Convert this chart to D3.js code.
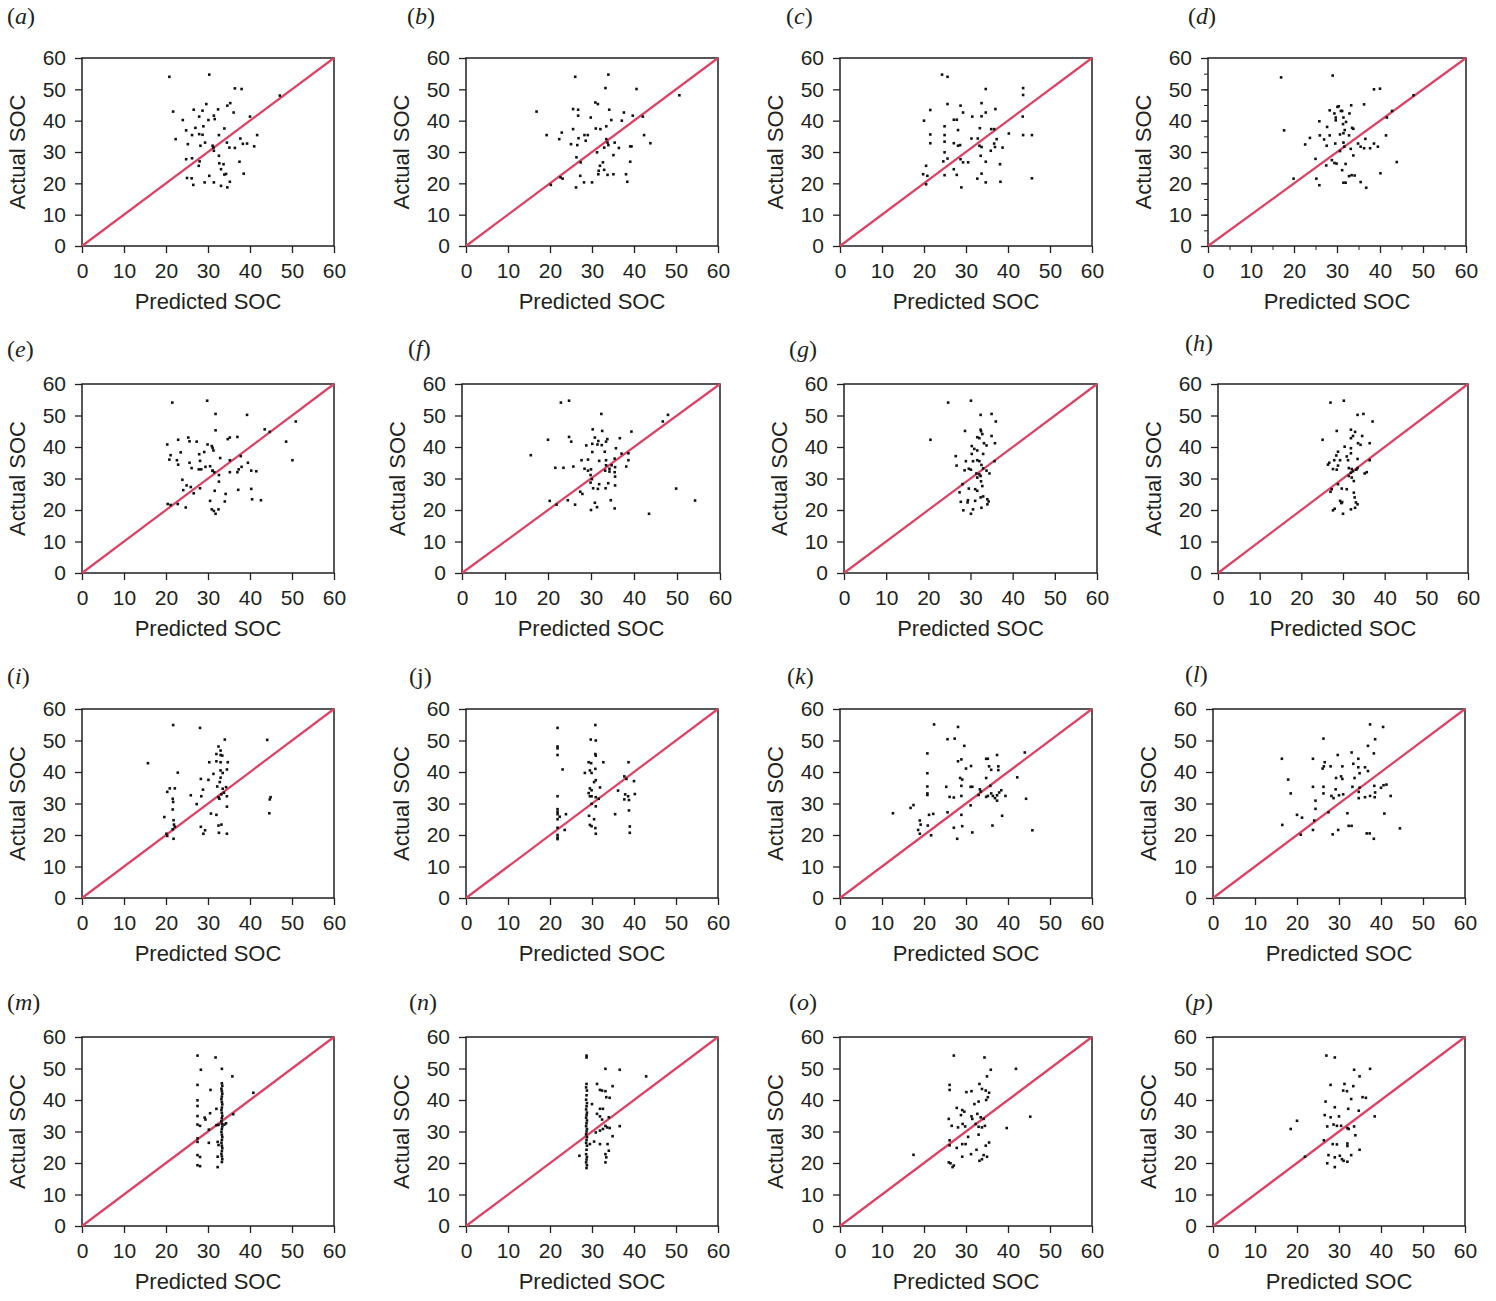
<!DOCTYPE html>
<html><head><meta charset="utf-8">
<script src="https://cdn.jsdelivr.net/npm/d3@7/dist/d3.min.js"></script>
<style>
html,body{margin:0;padding:0;background:#fff;}
svg{display:block;}
</style></head>
<body>
<svg id="chart" width="1496" height="1301"></svg>
<script>
// ---------- data ----------
const ticks = [0, 10, 20, 30, 40, 50, 60];
const minorTicks = [0, 5, 10, 15, 20, 25, 30, 35, 40, 45, 50, 55, 60];
const panelLabels = ["(a)","(b)","(c)","(d)","(e)","(f)","(g)","(h)","(i)","(j)","(k)","(l)","(m)","(n)","(o)","(p)"];
const xTitle = "Predicted SOC";
const yTitle = "Actual SOC";
const lineSegment = [[0, 0], [60, 60]];

const ptsA = [[20.8,54.0],[30.3,54.7],[36.4,50.3],[38.0,50.1],[47.1,48.0],[21.7,42.9],[26.6,43.5],[28.7,43.2],[32.4,43.6],[29.6,45.3],[34.6,44.8],[35.3,45.6],[36.1,42.6],[27.9,41.3],[31.4,41.6],[31.6,40.5],[30.1,40.2],[24.0,40.2],[40.0,41.3],[27.0,37.7],[28.9,38.2],[33.9,37.5],[24.8,36.9],[27.9,35.7],[28.7,35.5],[26.2,35.4],[32.6,35.4],[22.3,34.1],[25.2,32.5],[28.2,32.0],[31.1,32.0],[31.3,31.4],[29.3,33.0],[34.5,33.0],[35.1,31.4],[36.4,31.3],[37.7,34.3],[38.3,32.6],[41.0,31.8],[41.7,35.4],[39.3,32.7],[32.6,28.8],[31.4,30.4],[26.2,28.0],[24.8,27.7],[28.0,27.0],[32.7,26.4],[33.7,26.1],[37.5,26.9],[27.8,25.6],[33.1,24.5],[33.9,22.8],[34.3,23.0],[38.5,23.1],[25.0,21.7],[26.1,21.6],[30.3,22.4],[26.5,19.5],[29.2,20.3],[31.4,20.3],[34.6,18.7],[35.2,20.5],[33.1,19.2]];
const ptsB = [[26.0,54.0],[33.9,54.7],[33.2,50.4],[40.6,50.1],[50.8,48.1],[16.8,42.9],[25.5,43.7],[26.7,43.5],[30.8,45.8],[31.4,45.3],[34.1,43.5],[37.6,42.6],[26.7,41.6],[29.7,41.0],[30.9,37.5],[32.0,37.3],[25.5,37.3],[33.4,38.2],[34.6,40.2],[37.1,40.0],[39.7,41.6],[42.1,41.3],[19.2,35.4],[22.8,36.2],[22.2,34.1],[26.8,34.4],[28.2,35.4],[29.0,35.4],[25.0,32.5],[26.5,32.2],[28.5,33.6],[33.4,34.1],[33.7,33.0],[33.9,32.2],[32.9,31.4],[35.4,33.0],[36.4,31.3],[39.1,31.8],[39.4,31.8],[42.4,35.4],[43.9,32.8],[31.2,29.9],[35.1,29.0],[26.3,28.3],[27.3,26.7],[32.6,26.7],[39.1,26.9],[31.9,25.6],[31.6,24.0],[32.9,24.3],[31.5,22.9],[33.7,22.7],[35.1,22.9],[38.1,22.9],[27.2,22.4],[22.5,21.9],[23.0,21.5],[20.2,19.5],[28.1,20.3],[30.0,20.3],[26.2,18.7],[38.4,20.5]];
const ptsC = [[24.3,54.7],[25.6,54.0],[34.7,50.1],[43.6,50.4],[43.6,48.2],[25.6,45.3],[28.7,44.8],[29.3,42.6],[21.5,43.4],[33.7,45.6],[34.7,42.6],[37.0,43.7],[31.5,41.3],[33.7,41.4],[43.5,41.3],[20.0,40.0],[27.1,40.3],[27.8,40.3],[24.9,38.2],[28.1,37.0],[33.3,37.6],[36.0,37.3],[36.7,37.3],[21.5,35.6],[24.9,35.4],[40.2,35.9],[43.6,35.4],[45.7,35.4],[21.5,32.8],[24.9,33.3],[27.1,32.8],[28.1,32.0],[28.6,32.2],[31.3,34.3],[32.8,34.3],[33.2,32.0],[33.7,31.6],[36.7,32.7],[36.9,31.6],[37.3,34.1],[38.7,31.4],[35.9,30.4],[24.9,29.9],[33.5,28.8],[25.6,27.9],[28.7,27.7],[24.6,27.0],[29.3,26.7],[30.5,26.7],[34.7,26.9],[38.1,26.1],[20.5,25.6],[27.1,24.5],[19.8,22.9],[20.8,22.4],[24.9,22.6],[27.8,22.7],[33.7,23.1],[32.7,21.5],[45.7,21.6],[20.5,19.7],[34.7,20.3],[38.2,20.5],[28.9,18.7]];
const ptsD = [[17.0,53.8],[29.0,54.4],[38.6,50.0],[40.0,50.2],[47.8,48.1],[30.1,44.4],[30.4,44.6],[33.3,44.9],[36.3,45.2],[28.3,43.3],[30.9,43.1],[31.2,43.1],[32.9,42.3],[29.4,42.3],[29.7,41.0],[31.5,41.0],[29.7,40.1],[32.1,39.6],[25.9,39.8],[31.4,38.9],[42.8,43.1],[41.6,41.0],[17.7,36.9],[27.7,38.0],[31.8,37.0],[33.5,37.7],[33.8,37.4],[30.7,35.6],[31.5,36.0],[32.8,35.3],[23.7,34.5],[26.0,35.3],[28.3,35.3],[27.0,34.0],[36.6,34.2],[41.4,35.3],[22.6,32.4],[27.6,32.0],[29.6,32.7],[31.5,33.0],[31.7,31.7],[34.9,32.7],[35.5,31.7],[36.3,31.2],[37.7,31.2],[38.6,32.7],[39.5,31.7],[33.2,31.0],[30.7,30.3],[25.0,27.8],[28.8,27.4],[29.4,26.5],[29.9,26.3],[27.5,25.7],[32.0,26.2],[33.8,28.9],[43.9,26.8],[31.2,24.2],[32.8,22.3],[33.4,22.6],[34.1,22.5],[40.1,23.2],[25.2,21.5],[19.9,21.5],[31.5,20.2],[32.0,20.2],[35.5,20.4],[25.9,19.4],[36.8,18.6]];
const ptsE = [[21.5,54.1],[29.8,54.7],[31.8,50.5],[39.3,50.2],[50.9,48.1],[31.8,45.3],[43.5,45.6],[44.7,44.8],[22.9,42.3],[25.3,43.0],[34.7,42.5],[35.2,43.0],[37.0,43.2],[20.3,40.8],[25.6,41.8],[27.3,41.7],[29.9,40.8],[30.9,40.3],[31.1,39.7],[48.6,41.7],[23.5,38.3],[27.9,37.7],[29.1,38.4],[31.3,38.9],[21.1,37.4],[20.8,36.0],[22.6,35.8],[22.9,34.4],[25.6,35.0],[28.1,35.6],[32.9,36.5],[35.2,35.8],[37.8,37.1],[50.1,35.8],[26.1,33.3],[27.8,32.9],[28.4,32.9],[29.4,33.7],[30.5,33.9],[31.1,32.4],[31.5,32.0],[31.1,32.5],[32.6,31.1],[35.2,32.0],[37.0,32.0],[37.3,32.9],[38.0,33.7],[39.5,35.0],[40.3,32.5],[41.5,32.3],[23.9,29.6],[32.6,29.0],[24.9,27.8],[25.9,27.3],[24.1,26.3],[26.6,25.3],[28.1,26.9],[31.6,26.1],[37.2,26.4],[40.3,26.7],[34.2,25.1],[34.0,22.7],[30.5,22.9],[40.5,23.4],[42.6,23.1],[20.4,21.9],[21.1,21.6],[22.8,21.9],[24.7,20.8],[30.9,20.2],[31.4,19.7],[32.5,20.2],[31.8,18.8]];
const ptsF = [[23.0,54.1],[24.9,54.7],[32.4,50.5],[47.9,50.2],[46.7,48.1],[30.4,45.6],[32.6,45.1],[39.4,44.9],[24.9,43.2],[20.0,42.3],[33.8,42.5],[36.7,42.8],[25.4,41.7],[30.9,43.0],[31.7,41.9],[33.5,41.7],[28.9,40.5],[30.3,41.0],[31.5,40.8],[32.5,40.6],[30.3,38.4],[33.2,38.5],[35.8,39.6],[37.1,37.9],[38.7,38.0],[16.0,37.4],[27.8,35.8],[29.3,36.0],[31.9,35.6],[33.5,35.8],[35.5,36.3],[38.7,35.8],[21.7,33.4],[23.6,33.4],[25.9,33.8],[28.5,33.1],[29.3,32.5],[30.0,32.9],[33.5,34.2],[34.3,33.1],[34.8,34.2],[33.3,32.5],[34.3,32.2],[35.5,32.0],[35.6,30.6],[35.6,33.6],[38.2,33.8],[29.9,31.1],[30.2,29.8],[29.9,28.7],[31.9,28.2],[34.0,28.5],[30.5,26.9],[31.6,26.7],[33.4,26.9],[35.6,27.8],[27.5,25.8],[28.0,25.1],[49.8,26.8],[20.4,22.9],[24.6,23.1],[30.9,22.3],[34.6,23.1],[26.3,21.7],[22.0,21.7],[54.2,23.0],[31.4,20.9],[30.0,20.0],[35.5,20.5],[43.5,18.8]];
const ptsG = [[24.7,54.1],[30.1,54.7],[32.4,50.2],[35.0,50.5],[36.0,48.1],[20.5,42.3],[28.7,45.1],[32.4,45.5],[32.5,45.0],[32.8,44.1],[31.6,43.1],[32.1,42.8],[35.0,43.5],[33.2,41.2],[33.8,40.5],[35.8,41.2],[30.3,40.3],[30.9,39.4],[31.6,38.9],[33.0,37.8],[26.5,37.1],[30.3,37.8],[28.9,35.5],[30.6,35.5],[31.6,35.8],[32.1,35.5],[35.7,35.5],[26.7,34.1],[28.6,32.6],[29.6,33.1],[30.1,32.8],[32.6,34.3],[33.0,33.2],[33.8,32.5],[34.5,31.6],[31.4,31.6],[32.1,31.3],[31.6,30.3],[32.4,30.8],[32.5,29.1],[28.1,28.2],[29.6,26.8],[31.1,26.6],[31.6,26.1],[32.8,27.6],[27.4,25.6],[32.4,24.0],[33.0,24.3],[27.7,22.6],[29.4,23.1],[29.3,22.4],[31.1,22.9],[34.0,23.4],[34.3,22.7],[34.0,21.8],[28.3,19.9],[30.6,20.2],[32.6,20.7],[30.1,18.8]];
const ptsH = [[27.0,54.1],[30.2,54.7],[33.5,50.2],[34.9,50.5],[37.1,48.1],[25.1,42.3],[28.5,45.1],[31.9,45.5],[32.4,43.5],[31.9,42.8],[32.9,44.8],[34.6,43.5],[33.6,41.2],[34.2,40.7],[36.4,41.2],[30.4,40.1],[31.9,39.6],[28.8,38.5],[31.9,38.0],[30.9,37.0],[28.4,37.3],[26.7,35.0],[27.9,35.8],[29.3,35.8],[31.2,35.8],[33.5,36.2],[36.4,35.8],[26.4,34.4],[28.8,34.1],[27.6,33.0],[28.5,32.8],[31.4,33.3],[32.1,33.0],[32.4,32.3],[31.9,31.8],[33.2,32.8],[33.5,33.3],[35.2,31.6],[35.7,32.0],[31.4,30.8],[32.1,30.3],[32.6,29.2],[28.8,28.2],[27.0,25.8],[27.3,26.6],[29.7,26.8],[30.9,26.6],[32.6,25.5],[32.8,24.0],[33.1,22.4],[29.3,22.9],[29.6,22.2],[29.8,22.5],[33.5,21.8],[27.6,19.9],[28.0,20.4],[31.9,20.2],[32.9,20.7],[30.0,18.8]];
const ptsI = [[21.7,54.9],[28.1,54.0],[34.0,50.3],[44.1,50.2],[32.5,48.1],[33.0,46.8],[15.7,42.8],[32.0,45.7],[33.0,45.4],[33.4,45.2],[32.0,43.4],[33.0,43.1],[34.7,43.1],[30.3,43.1],[22.8,39.8],[28.3,37.8],[30.1,37.5],[31.3,39.4],[33.0,40.5],[33.5,39.7],[34.5,40.8],[33.0,38.2],[32.8,36.8],[32.2,35.4],[33.5,34.7],[34.3,35.2],[20.9,34.8],[22.1,34.8],[20.3,33.7],[21.6,31.5],[21.7,30.5],[28.8,34.4],[25.9,32.6],[28.4,32.3],[32.5,32.0],[32.7,31.5],[33.2,32.9],[33.8,33.4],[34.5,32.3],[27.3,29.8],[34.5,29.0],[44.9,32.0],[44.7,31.3],[44.6,26.9],[21.6,28.1],[30.7,26.8],[32.0,26.4],[19.6,25.7],[21.8,24.7],[21.9,23.3],[22.1,22.6],[32.5,23.0],[33.2,23.3],[28.3,22.6],[21.6,21.8],[29.3,21.5],[20.1,20.4],[28.9,20.4],[32.6,20.7],[34.5,20.4],[20.3,19.7],[21.8,18.8]];
const ptsJ = [[21.8,54.0],[30.8,54.9],[21.8,48.1],[21.8,47.5],[29.7,50.3],[30.9,50.0],[21.8,45.4],[30.8,45.7],[30.9,45.2],[29.2,43.1],[29.8,42.8],[32.7,43.1],[38.7,43.1],[23.0,40.8],[29.5,40.5],[28.3,39.7],[29.9,39.7],[30.8,41.0],[37.7,38.6],[38.2,37.8],[40.0,37.1],[30.5,36.8],[30.9,37.4],[29.5,34.8],[29.9,34.2],[31.9,35.1],[36.2,34.1],[29.2,33.3],[29.5,32.3],[29.9,32.3],[30.9,32.0],[31.6,31.5],[37.9,32.9],[38.6,32.3],[40.2,33.0],[21.8,32.3],[37.7,31.3],[38.8,31.1],[29.9,29.9],[30.9,29.1],[21.8,28.2],[21.8,27.4],[21.8,26.6],[22.3,25.8],[23.8,26.6],[35.5,26.6],[29.3,26.1],[38.8,27.8],[30.5,25.0],[21.8,25.0],[29.5,23.2],[29.9,22.8],[30.8,22.2],[39.0,22.7],[23.5,21.6],[21.8,22.3],[30.9,20.4],[39.0,20.7],[21.8,20.0],[21.8,19.2],[21.8,18.7]];
const ptsK = [[22.4,55.1],[28.1,54.3],[25.6,50.4],[27.3,50.6],[29.6,48.3],[20.8,45.9],[37.4,45.4],[44.0,46.2],[28.1,43.4],[28.9,44.0],[34.8,44.2],[35.2,44.2],[31.2,41.9],[30.0,41.1],[35.5,41.8],[37.7,41.8],[36.0,40.7],[37.7,40.6],[20.8,39.6],[28.6,38.1],[29.1,37.6],[34.8,38.1],[42.2,38.3],[20.8,35.4],[25.3,35.3],[28.9,35.6],[31.1,35.3],[31.5,35.3],[33.3,34.5],[35.8,35.6],[16.8,28.6],[17.5,29.5],[12.6,26.9],[20.8,33.2],[20.8,32.7],[26.1,32.1],[27.1,31.9],[28.9,32.4],[33.0,32.7],[33.5,33.8],[34.8,32.1],[35.2,32.4],[36.0,33.2],[36.4,32.4],[36.9,31.7],[37.4,32.6],[37.9,33.5],[38.4,34.2],[37.4,30.9],[39.4,32.4],[31.1,29.4],[44.3,31.5],[25.6,27.2],[28.9,26.4],[21.2,26.4],[22.2,26.7],[38.6,26.1],[19.0,24.6],[19.2,23.3],[20.9,23.0],[27.1,22.3],[29.1,22.8],[36.3,23.0],[18.6,21.6],[31.5,20.8],[19.0,20.4],[21.7,19.9],[27.9,18.8],[45.8,21.5]];
const ptsL = [[37.4,55.1],[40.5,54.3],[26.3,50.6],[38.6,50.4],[36.9,48.3],[16.4,44.2],[23.8,44.2],[29.7,45.4],[33.0,46.2],[34.6,44.2],[38.3,45.9],[26.6,43.1],[26.4,41.8],[28.0,41.8],[30.8,41.8],[33.4,42.6],[34.6,41.5],[36.2,41.5],[26.1,41.1],[36.9,40.3],[29.3,38.1],[30.5,38.6],[30.8,37.8],[33.7,38.1],[34.9,39.6],[17.9,37.6],[23.8,35.3],[26.3,35.3],[29.2,34.5],[33.2,35.3],[34.9,35.0],[38.4,35.6],[40.0,35.0],[40.6,35.8],[41.3,36.0],[38.6,33.5],[18.5,33.2],[26.3,33.2],[28.2,32.4],[28.7,31.7],[30.0,32.6],[31.0,32.9],[34.7,33.7],[34.7,31.7],[36.2,32.0],[37.4,32.4],[38.5,32.0],[42.3,32.4],[24.4,30.9],[24.4,28.3],[27.5,27.2],[32.0,26.9],[40.8,26.8],[20.0,26.4],[21.2,25.5],[16.5,23.2],[24.1,24.6],[32.3,22.9],[33.0,22.9],[44.5,22.1],[23.8,21.6],[28.5,20.2],[29.8,21.6],[20.9,20.1],[36.6,20.5],[37.3,20.5],[38.3,18.8]];
const ptsM = [[27.5,54.1],[31.8,53.5],[28.3,49.6],[33.3,49.9],[35.8,47.5],[27.5,44.8],[30.6,43.2],[40.8,42.3],[27.5,39.9],[27.5,38.1],[27.5,34.9],[27.5,32.2],[28.1,31.8],[27.5,27.8],[27.5,26.7],[27.5,22.5],[28.1,21.9],[27.5,19.3],[28.1,19.0],[29.4,33.8],[30.2,30.6],[30.2,26.4],[30.5,35.8],[29.2,34.4],[32.0,37.2],[32.3,26.7],[32.5,25.7],[32.3,18.7],[36.0,35.5],[32.3,22.0],
  [33.3,45.3],[33.4,44.5],[33.2,43.6],[33.3,42.8],[33.4,42.0],[33.3,41.1],[33.2,40.3],[33.3,39.4],[33.4,38.6],[33.3,37.6],[33.2,36.8],[33.3,35.9],[33.4,35.0],[33.3,34.2],[33.2,33.3],[33.3,32.5],[33.4,31.6],[33.3,30.8],[33.2,29.9],[33.3,29.0],[33.4,28.2],[33.3,27.3],[33.2,26.4],[33.3,25.5],[33.4,24.7],[33.3,23.8],[33.2,22.9],[33.3,22.1],[33.4,21.2],[33.3,20.3],[32.0,32.0],[32.5,32.1],[33.9,32.2],[34.3,32.6]];
const ptsN = [[28.7,54.1],[28.7,53.5],[33.2,49.9],[36.6,49.6],[42.9,47.5],[31.2,45.1],[31.9,43.2],[32.4,43.0],[33.2,42.8],[34.9,44.4],[33.4,40.9],[34.2,40.7],[30.0,38.7],[31.9,37.2],[32.6,37.2],[31.2,35.6],[31.9,34.8],[34.0,34.5],[32.4,33.8],[33.2,31.8],[33.6,31.3],[32.6,30.8],[31.9,30.3],[34.2,31.1],[36.6,31.7],[34.9,28.5],[30.9,29.7],[29.5,26.0],[30.5,26.8],[31.9,26.0],[33.7,26.0],[33.2,22.8],[34.0,23.9],[33.4,21.8],[33.2,20.2],[27.0,22.3],
  [28.7,45.1],[28.6,44.0],[28.8,43.0],[28.7,41.5],[28.6,40.1],[28.8,39.0],[28.7,38.0],[28.6,37.0],[28.8,36.0],[28.7,35.2],[28.6,34.4],[28.8,33.5],[28.7,32.6],[28.6,31.7],[28.8,30.8],[28.7,30.0],[28.6,29.1],[28.8,28.2],[28.7,27.3],[28.6,26.4],[28.8,25.5],[28.7,24.2],[28.6,22.8],[28.8,21.9],[28.7,21.1],[28.6,20.2],[28.8,19.3],[28.7,18.4]];
const ptsO = [[27.1,54.1],[34.4,53.5],[35.9,49.6],[41.9,49.9],[35.0,47.5],[26.1,44.8],[26.1,43.2],[30.1,42.5],[31.3,42.8],[33.2,45.1],[33.8,43.5],[34.7,43.0],[35.5,42.3],[35.2,40.9],[34.8,40.0],[33.0,39.5],[32.0,38.7],[27.8,37.5],[29.1,36.8],[29.6,36.3],[28.8,35.2],[32.7,35.6],[31.3,34.8],[31.5,34.0],[33.5,34.5],[34.2,34.0],[45.3,34.7],[25.9,34.0],[26.6,31.8],[28.1,31.3],[29.2,32.4],[29.8,31.6],[32.3,32.4],[33.0,31.5],[33.8,31.3],[34.5,31.8],[39.7,31.1],[33.0,29.0],[30.5,28.3],[26.1,27.2],[26.1,25.6],[27.8,24.8],[29.1,26.0],[29.9,26.0],[35.5,26.5],[34.7,25.5],[32.5,24.2],[17.5,22.6],[29.1,22.0],[31.2,22.8],[34.2,22.5],[35.0,22.0],[25.9,20.2],[26.3,19.9],[33.2,20.7],[33.8,21.2],[26.8,18.7],[27.1,19.2]];
const ptsP = [[27.0,54.1],[29.0,53.5],[33.6,49.6],[37.4,49.9],[34.9,47.5],[28.0,44.8],[31.3,45.1],[31.0,43.0],[31.9,42.8],[33.4,44.4],[32.9,40.3],[35.6,40.9],[36.4,40.7],[26.8,39.5],[29.0,37.7],[32.2,37.2],[34.7,36.6],[20.0,33.4],[18.5,30.8],[26.6,35.2],[28.0,34.5],[30.0,34.8],[38.5,34.8],[27.2,31.6],[28.7,32.2],[29.5,31.8],[30.5,31.8],[32.0,31.1],[32.3,30.8],[33.6,31.6],[33.9,28.8],[26.4,27.2],[28.5,26.0],[29.5,25.9],[32.0,26.2],[32.0,25.4],[34.9,24.2],[21.9,22.0],[27.5,22.5],[29.0,21.8],[30.2,22.3],[30.7,21.2],[32.9,22.5],[27.2,19.9],[31.1,20.7],[32.0,20.4],[29.0,18.7]];

const panelPoints = [ptsA, ptsB, ptsC, ptsD, ptsE, ptsF, ptsG, ptsH, ptsI, ptsJ, ptsK, ptsL, ptsM, ptsN, ptsO, ptsP];

// ---------- layout (pixel geometry, not data) ----------
const rowsY = [[58, 246], [384, 573], [709, 898], [1037, 1226]];
const colsX = [
  [[82, 334], [466, 718], [840, 1092], [1208, 1466]],
  [[82, 334], [462, 720], [844, 1097], [1218, 1468]],
  [[82, 334], [466, 718], [840, 1092], [1213, 1465]],
  [[82, 334], [466, 718], [840, 1092], [1213, 1465]]
];
const labelX = [[7, 407, 786, 1188], [7, 408, 789, 1185], [7, 409, 787, 1185], [7, 409, 789, 1185]];
const labelBase = [[24, 24, 24, 24], [357, 356, 357, 351], [684, 684, 684, 682], [1010, 1010, 1010, 1010]];

const svg = d3.select("#chart");
const ink = "#231f20";
const red = "#dc4262";
const sans = "'Liberation Sans', Arial, Helvetica, sans-serif";

panelPoints.forEach((pts, i) => {
  const r = Math.floor(i / 4), c = i % 4;
  const [l, rt] = colsX[r][c];
  const [t, b] = rowsY[r];
  const x = d3.scaleLinear().domain([0, 60]).range([l, rt]);
  const y = d3.scaleLinear().domain([0, 60]).range([b, t]);
  const g = svg.append("g");

  // axes
  const xAxis = d3.axisBottom(x).tickValues(ticks).tickSize(7).tickPadding(10).tickFormat(d3.format("d"));
  const yAxis = d3.axisLeft(y).tickValues(ticks).tickSize(7).tickPadding(9).tickFormat(d3.format("d"));
  const gx = g.append("g").attr("transform", `translate(0,${b})`).call(xAxis);
  const gy = g.append("g").attr("transform", `translate(${l},0)`).call(yAxis);
  [gx, gy].forEach(a => {
    a.select(".domain").remove();
    a.selectAll(".tick line").attr("stroke", ink).attr("stroke-width", 1.3);
    a.selectAll(".tick text").attr("fill", ink).style("font-family", sans).style("font-size", "21px");
  });

  if (i === 3) {
    g.append("g").attr("transform", `translate(0,${b})`)
      .call(d3.axisBottom(x).tickValues(minorTicks).tickSize(4).tickFormat(""))
      .call(a => { a.select(".domain").remove(); a.selectAll("line").attr("stroke", ink).attr("stroke-width", 1); });
    g.append("g").attr("transform", `translate(${l},0)`)
      .call(d3.axisLeft(y).tickValues(minorTicks).tickSize(4).tickFormat(""))
      .call(a => { a.select(".domain").remove(); a.selectAll("line").attr("stroke", ink).attr("stroke-width", 1); });
  }

  // frame
  g.append("rect").attr("x", l).attr("y", t).attr("width", rt - l).attr("height", b - t)
    .attr("fill", "none").attr("stroke", ink).attr("stroke-width", 1.5);

  // 1:1 line
  g.append("line")
    .attr("x1", x(lineSegment[0][0])).attr("y1", y(lineSegment[0][1]))
    .attr("x2", x(lineSegment[1][0])).attr("y2", y(lineSegment[1][1]))
    .attr("stroke", red).attr("stroke-width", 2.2);

  // points
  g.selectAll("rect.pt").data(pts).join("rect").attr("class", "pt")
    .attr("x", d => x(d[0]) - 1.3).attr("y", d => y(d[1]) - 1.3)
    .attr("width", 2.6).attr("height", 2.6).attr("fill", "#111");

  // titles
  g.append("text").attr("x", (l + rt) / 2).attr("y", b + 63)
    .attr("text-anchor", "middle").attr("fill", ink)
    .style("font-family", sans).style("font-size", "22px")
    .text(xTitle);
  g.append("text").attr("transform", `translate(${l - 57},${(t + b) / 2}) rotate(-90)`)
    .attr("text-anchor", "middle").attr("fill", ink)
    .style("font-family", sans).style("font-size", "22px")
    .text(yTitle);

  // panel label
  const lab = panelLabels[i];
  const txt = g.append("text").attr("x", labelX[r][c]).attr("y", labelBase[r][c]).attr("fill", ink)
    .style("font-family", "'Liberation Serif', 'Times New Roman', serif").style("font-size", "24px");
  txt.append("tspan").text("(");
  txt.append("tspan").style("font-style", lab === "(j)" ? "normal" : "italic").text(lab.slice(1, -1));
  txt.append("tspan").text(")");
});
</script>
</body></html>
